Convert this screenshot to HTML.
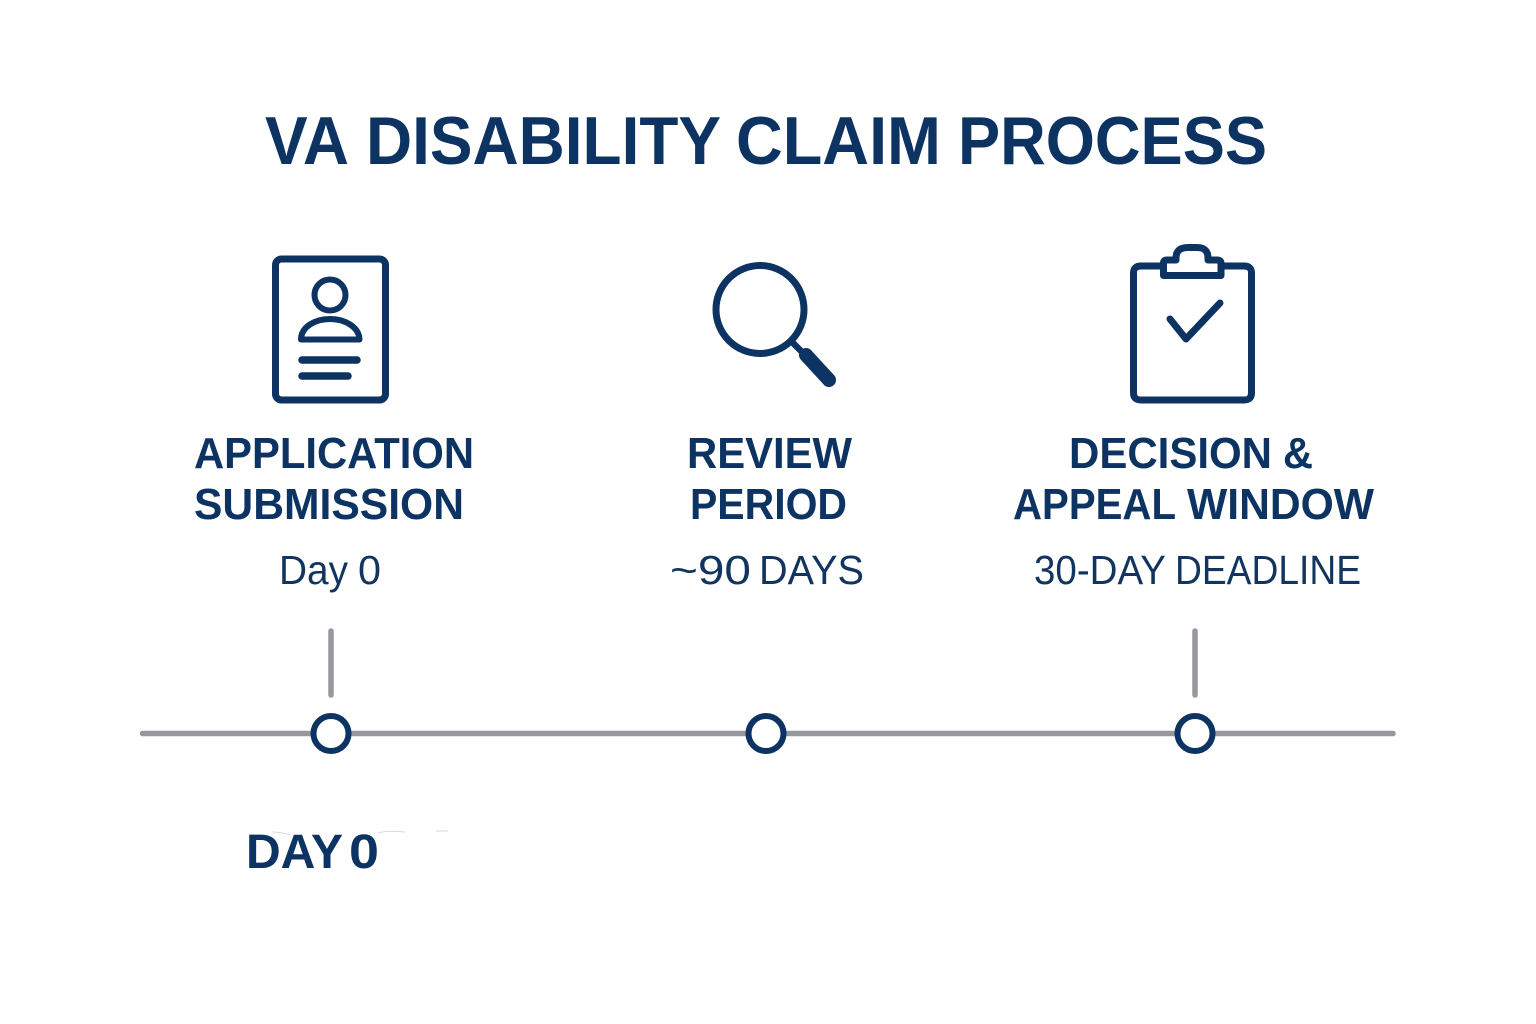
<!DOCTYPE html>
<html>
<head>
<meta charset="utf-8">
<style>
html,body{margin:0;padding:0;background:#fff;width:1536px;height:1024px;overflow:hidden}
svg{display:block}
text{font-family:"Liberation Sans",sans-serif;fill:#0c3362}
.t{font-weight:700;font-size:68px}
.h{font-size:44px;font-weight:700}
.r{font-size:41px;fill:#12355f}
.d{font-size:48px;font-weight:700}
</style>
</head>
<body>
<svg width="1536" height="1024" viewBox="0 0 1536 1024" xmlns="http://www.w3.org/2000/svg">
<rect width="1536" height="1024" fill="#fff"/>
<text class="t" x="265" y="164" textLength="84" lengthAdjust="spacingAndGlyphs">VA</text>
<text class="t" x="366" y="164" textLength="355" lengthAdjust="spacingAndGlyphs">DISABILITY</text>
<text class="t" x="736" y="164" textLength="205" lengthAdjust="spacingAndGlyphs">CLAIM</text>
<text class="t" x="958" y="164" textLength="309" lengthAdjust="spacingAndGlyphs">PROCESS</text>

<g fill="none" stroke="#0c3362" stroke-linecap="round" stroke-linejoin="round">
  <rect x="275.500" y="259" width="110" height="141" rx="6" stroke-width="7"/>
  <circle cx="330" cy="295" r="15.500" stroke-width="6"/>
  <path d="M301 339.500 C301 327 315 319 330 319 C345 319 359 327 359.500 339.500 Z" stroke-width="6"/>
  <path d="M302 360H357" stroke-width="7.500"/>
  <path d="M302 376H348" stroke-width="7.500"/>

  <circle cx="760" cy="309.500" r="44" stroke-width="7"/>
  <path d="M793 343L806 356" stroke-width="6.500"/>
  <path d="M806 355L829 380" stroke-width="14"/>

  <path d="M1160 266H1141 Q1133.500 266 1133.500 273V393 Q1133.500 400 1141 400H1244 Q1251.500 400 1251.500 393V273 Q1251.500 266 1244 266H1224" stroke-width="7"/>
  <path d="M1163.500 263 Q1163.500 260 1167 260H1176 V258 Q1176 247.500 1188 247.500H1197 Q1208 247.500 1208 258V260H1217 Q1221 260 1221 263V275.500H1163.500 Z" stroke-width="7"/>
  <path d="M1170 319L1186 339L1220 303" stroke-width="7"/>
</g>

<text class="h" x="194" y="468" textLength="280" lengthAdjust="spacingAndGlyphs">APPLICATION</text>
<text class="h" x="194" y="519" textLength="270" lengthAdjust="spacingAndGlyphs">SUBMISSION</text>
<text class="r" x="279" y="584" textLength="69" lengthAdjust="spacingAndGlyphs">Day</text>
<text class="r" x="358" y="584" textLength="23" lengthAdjust="spacingAndGlyphs">0</text>

<text class="h" x="687" y="468" textLength="165" lengthAdjust="spacingAndGlyphs">REVIEW</text>
<text class="h" x="690" y="519" textLength="157" lengthAdjust="spacingAndGlyphs">PERIOD</text>
<text class="r" x="670" y="584" textLength="81" lengthAdjust="spacingAndGlyphs">~90</text>
<text class="r" x="759" y="584" textLength="105" lengthAdjust="spacingAndGlyphs">DAYS</text>

<text class="h" x="1069" y="468" textLength="203" lengthAdjust="spacingAndGlyphs">DECISION</text>
<text class="h" x="1283" y="468" textLength="30" lengthAdjust="spacingAndGlyphs">&amp;</text>
<text class="h" x="1013" y="519" textLength="163" lengthAdjust="spacingAndGlyphs">APPEAL</text>
<text class="h" x="1187" y="519" textLength="187" lengthAdjust="spacingAndGlyphs">WINDOW</text>
<text class="r" x="1034" y="584" textLength="132" lengthAdjust="spacingAndGlyphs">30-DAY</text>
<text class="r" x="1175" y="584" textLength="186" lengthAdjust="spacingAndGlyphs">DEADLINE</text>

<g stroke="#95989c" stroke-width="5.500" stroke-linecap="round" fill="none">
  <path d="M142.500 733.500H1393"/>
  <path d="M331 631V695"/>
  <path d="M1195 631V695"/>
</g>
<g fill="#fff" stroke="#0c3362" stroke-width="6">
  <circle cx="331" cy="733.500" r="17.500"/>
  <circle cx="766" cy="733.500" r="17.500"/>
  <circle cx="1195" cy="733.500" r="17.500"/>
</g>

<text class="d" x="246" y="868" textLength="97" lengthAdjust="spacingAndGlyphs">DAY</text>
<text class="d" x="349" y="868" textLength="30" lengthAdjust="spacingAndGlyphs">0</text>
<g fill="none" stroke="#d8d8d8" stroke-width="1">
  <path d="M272 832 Q282 832 290 835"/>
  <path d="M378 833 Q388 830 405 832"/>
  <path d="M436 831H448"/>
</g>
</svg>
</body>
</html>
